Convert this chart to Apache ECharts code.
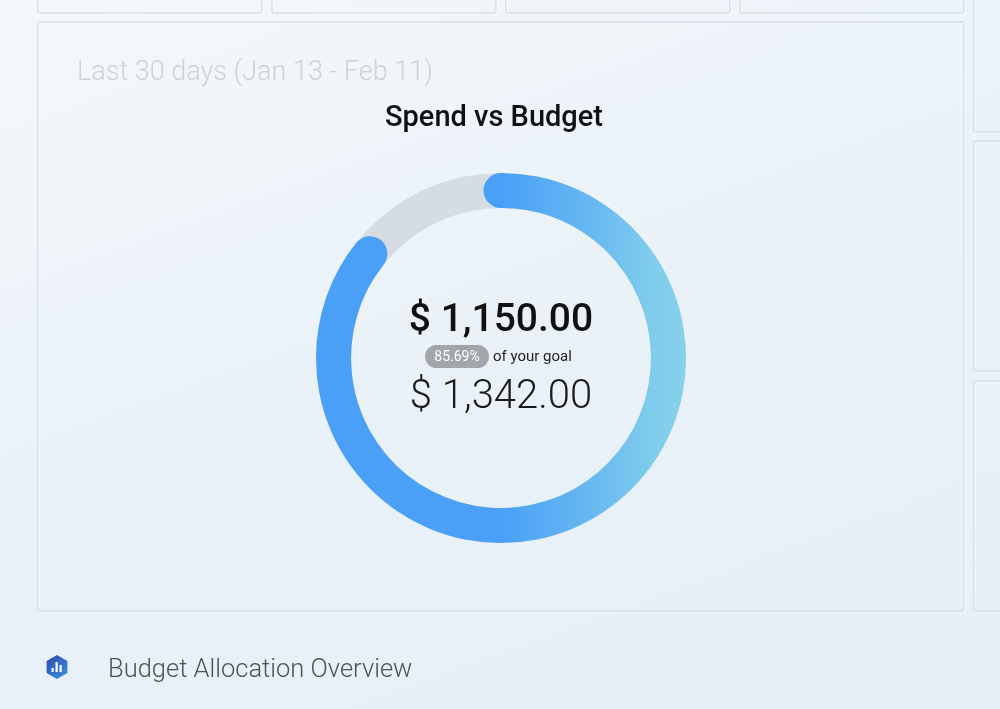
<!DOCTYPE html>
<html><head><meta charset="utf-8">
<script src="https://cdn.jsdelivr.net/npm/echarts@6/dist/echarts.min.js"></script>
<style>
html,body{margin:0;padding:0;width:1000px;height:709px;overflow:hidden;}
body{background:linear-gradient(160deg,#f4f8fb 0%,#eaf2f8 45%,#e5eff7 100%);}
#c{width:1000px;height:709px;}
</style></head><body>
<div id="c"></div>
<script>
const titleText = ["Spend vs Budget"];
const periodText = ["Last 30 days (Jan 13 - Feb 11)"];
const footerText = ["Budget Allocation Overview"];
const spentValues = [1150];
const budgetValues = [1342];

const spent = spentValues[0], budget = budgetValues[0];
const pct = spent / budget * 100;
const fmt = v => '$ ' + v.toLocaleString('en-US', {minimumFractionDigits: 2, maximumFractionDigits: 2});

const chart = echarts.init(document.getElementById('c'), null, {renderer: 'canvas'});
const border = '#d5dee6';
function panel(x, y, w, h) {
  return [
    {type: 'rect', shape: {x: x + 1, y: y + 1, width: w, height: h, r: 2}, style: {fill: 'none', stroke: '#ffffff', lineWidth: 1.2, opacity: 0.8}, silent: true, z: 0},
    {type: 'rect', shape: {x: x, y: y, width: w, height: h, r: 2}, style: {fill: 'none', stroke: border, lineWidth: 1.3}, silent: true, z: 1}
  ];
}
const graphics = [].concat(
  panel(38, -10, 224, 23), panel(272, -10, 224, 23), panel(506, -10, 224, 23), panel(740, -10, 224, 23),
  panel(38, 22, 926, 589),
  panel(974, -10, 40, 142), panel(974, 141, 40, 230), panel(974, 381, 40, 230),
  [
    {type: 'text', x: 77, y: 73.5, style: {text: periodText[0], font: '300 27px Roboto', fill: '#cbd2d9', verticalAlign: 'middle'}},
    {type: 'text', x: 494, y: 119, style: {text: titleText[0], font: '500 29px Roboto', fill: '#111111', align: 'center', verticalAlign: 'middle'}},
    {type: 'text', x: 501, y: 321, style: {text: fmt(spent), font: '500 39px Roboto', fill: '#111111', align: 'center', verticalAlign: 'middle'}},
    {type: 'rect', shape: {x: 425, y: 345, width: 64, height: 23, r: 11.5}, style: {fill: '#a2a6aa'}},
    {type: 'text', x: 457, y: 357, style: {text: pct.toFixed(2) + '%', font: '400 14px Roboto', fill: '#ffffff', align: 'center', verticalAlign: 'middle'}},
    {type: 'text', x: 493, y: 357, style: {text: 'of your goal', font: '400 15px Roboto', fill: '#222222', align: 'left', verticalAlign: 'middle'}},
    {type: 'text', x: 501, y: 397.5, style: {text: fmt(budget), font: '300 40px Roboto', fill: '#1a1a1a', align: 'center', verticalAlign: 'middle'}},
    {type: 'polygon', shape: {points: [[57, 655], [67.4, 661], [67.4, 673], [57, 679], [46.6, 673], [46.6, 661]]},
      style: {fill: new echarts.graphic.LinearGradient(0, 0, 1, 1, [{offset: 0, color: '#2a4aa8'}, {offset: 1, color: '#3d92e4'}])}},
    {type: 'rect', shape: {x: 51.5, y: 668, width: 2.2, height: 4}, style: {fill: '#ffffff'}},
    {type: 'rect', shape: {x: 55.5, y: 662, width: 2.2, height: 10}, style: {fill: '#ffffff'}},
    {type: 'rect', shape: {x: 59.5, y: 665, width: 2.2, height: 7}, style: {fill: '#ffffff'}},
    {type: 'text', x: 108, y: 671, style: {text: footerText[0], font: '300 25.5px Roboto', fill: '#48535e', verticalAlign: 'middle'}}
  ]
);

chart.setOption({
  backgroundColor: 'transparent',
  animation: false,
  graphic: graphics,
  series: [{
    type: 'gauge',
    center: [501, 358],
    radius: 185,
    startAngle: 90,
    endAngle: -270,
    min: 0,
    max: 100,
    pointer: {show: false},
    axisTick: {show: false},
    splitLine: {show: false},
    axisLabel: {show: false},
    detail: {show: false},
    title: {show: false},
    axisLine: {lineStyle: {width: 35, color: [[1, '#d5dde3']]}},
    progress: {
      show: true, width: 35, roundCap: true,
      itemStyle: {color: new echarts.graphic.LinearGradient(0, 0, 1, 0, [
        {offset: 0, color: '#4a9ff6'},
        {offset: 0.5, color: '#4aa0f6'},
        {offset: 0.75, color: '#68b9f0'},
        {offset: 0.9, color: '#7ecbec'},
        {offset: 1, color: '#86d2ec'}
      ])}
    },
    data: [{value: pct}]
  }]
});
</script>
</body></html>
